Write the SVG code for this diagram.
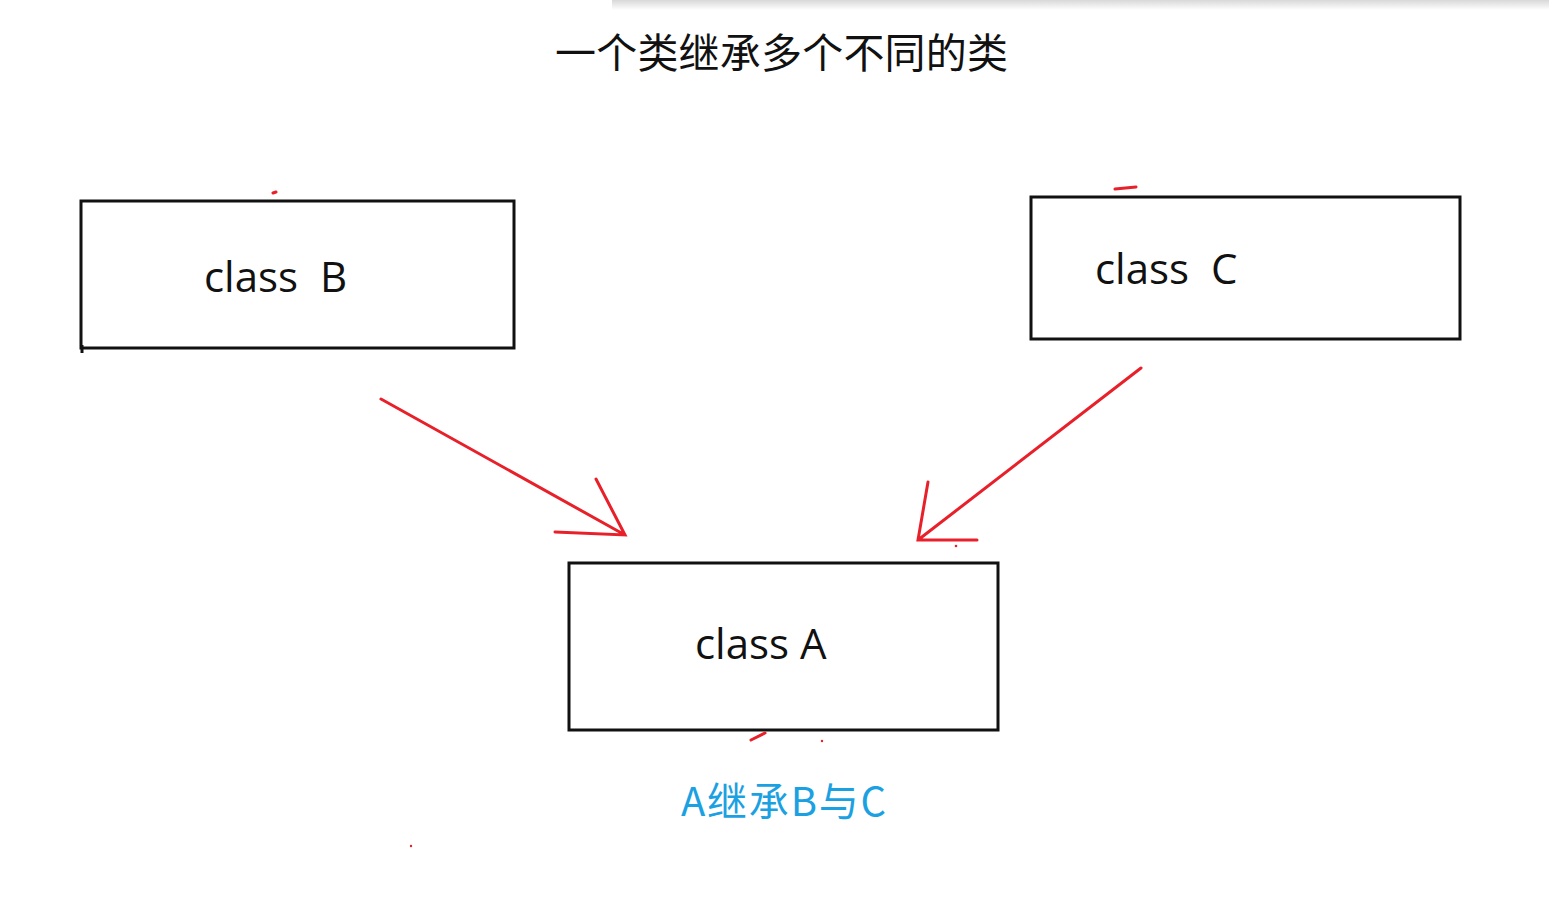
<svg xmlns="http://www.w3.org/2000/svg" width="1549" height="922" viewBox="0 0 1549 922">
<defs>
<linearGradient id="shadow" x1="0" y1="0" x2="0" y2="1">
<stop offset="0" stop-color="#d8d8d8"/>
<stop offset="1" stop-color="#ffffff"/>
</linearGradient>
</defs>
<style>
.box{fill:#fff;stroke:#111;stroke-width:3}
.lbl{font-family:"Open Sans","Noto Sans","Liberation Sans",sans-serif;font-size:42px;fill:#111}
.red{stroke:#e8202a;stroke-width:3;fill:none;stroke-linecap:round}
</style>
<rect width="1549" height="922" fill="#fff"/>
<rect x="612" y="0" width="937" height="10" fill="url(#shadow)"/>
<text x="555" y="68" font-family="'Noto Sans CJK SC',sans-serif" font-size="41" fill="#111" textLength="453">一个类继承多个不同的类</text>
<g id="classB">
<rect class="box" x="81" y="201" width="433" height="147"/>
<line x1="82" y1="345" x2="82" y2="353" stroke="#111" stroke-width="3"/>
<text class="lbl" x="204" y="292" xml:space="preserve">class  B</text>
</g>
<g id="classC">
<rect class="box" x="1031" y="197" width="429" height="142"/>
<text class="lbl" x="1095" y="284" xml:space="preserve">class  C</text>
</g>
<g id="classA">
<rect class="box" x="569" y="563" width="429" height="167"/>
<text class="lbl" x="695" y="659">class A</text>
</g>
<g id="connectors">
<path class="red" d="M381,399 L625,535 M596,479 L625,535 L555,532"/>
<path class="red" d="M1141,368 L918,540 M928,482 L918,540 L977,540"/>
<circle cx="956" cy="546" r="1.3" fill="#e8202a"/>
<path class="red" d="M273,193 l3,-1 M1115,189 l21,-2 M751,740 l14,-7" stroke-width="2"/>
<circle cx="822" cy="741" r="1.2" fill="#e8202a"/>
<circle cx="411" cy="846" r="1.2" fill="#e8202a"/>
</g>
<text x="681" y="816" font-family="'Noto Sans CJK SC',sans-serif" font-size="40" fill="#1ba1e2" textLength="205">A继承B与C</text>
</svg>
